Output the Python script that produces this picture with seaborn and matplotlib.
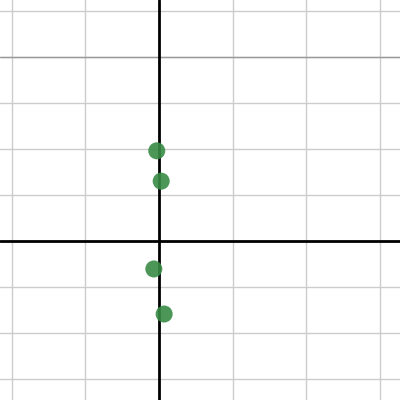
import matplotlib.pyplot as plt
import seaborn as sns

sns.set_theme(style="white")

# points (grid units)
xs = [-0.03, 0.03, -0.07, 0.07]
ys = [1.96, 1.30, -0.61, -1.59]

fig = plt.figure(figsize=(4, 4), dpi=100)
ax = fig.add_axes([0, 0, 1, 1])

ax.set_xlim(-2.157, 3.27)
ax.set_ylim(-3.46, 5.24)

for gx in range(-2, 4):
    ax.axvline(gx, color="#cccccc", lw=1, zorder=0)
for gy in range(-3, 6):
    ax.axhline(gy, color="#cccccc", lw=1, zorder=0)
ax.axhline(4, color="#999999", lw=1, zorder=0)
ax.axhline(0, color="black", lw=2, zorder=1)
ax.axvline(0, color="black", lw=2, zorder=1)

sns.scatterplot(x=xs, y=ys, ax=ax, s=150, color="#388c46", alpha=0.9,
                edgecolor="none", zorder=3)

ax.set_xticks([])
ax.set_yticks([])
for s in ax.spines.values():
    s.set_visible(False)

fig.savefig("out.png", dpi=100)
